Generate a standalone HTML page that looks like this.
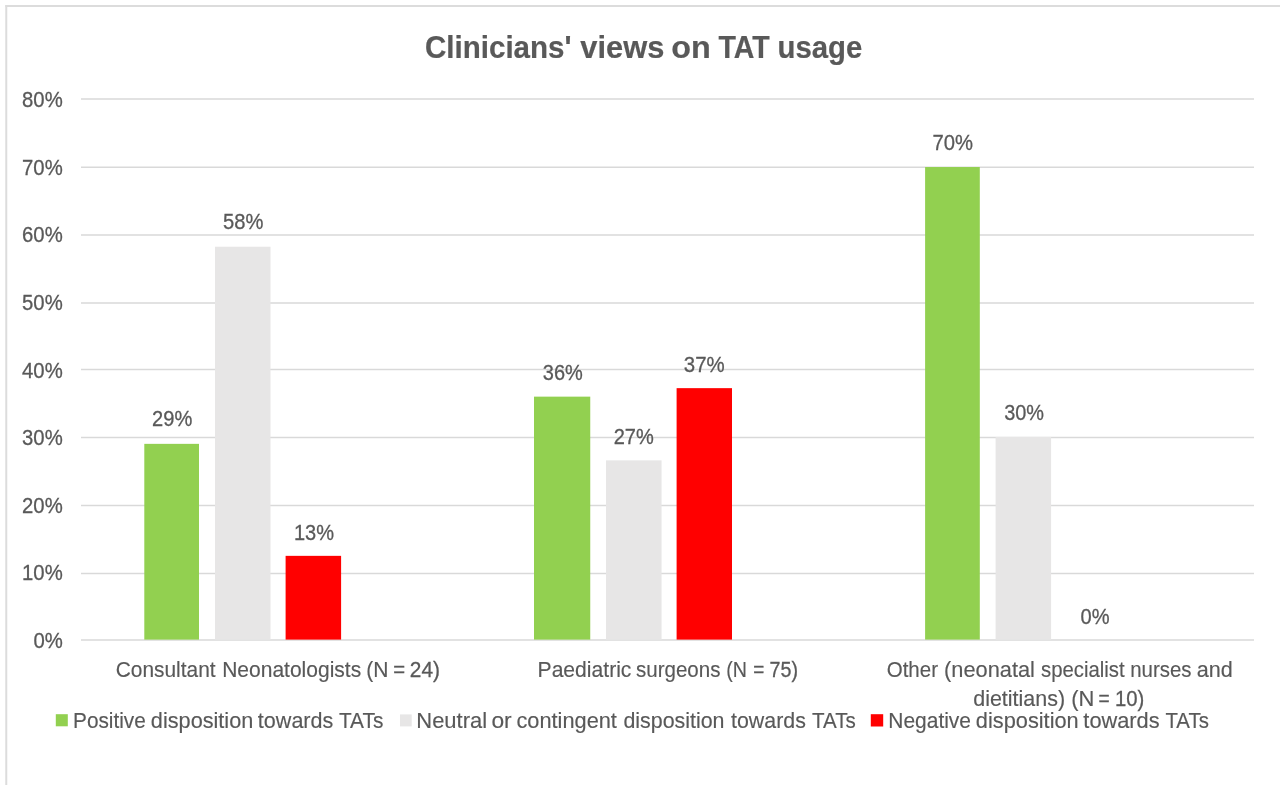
<!DOCTYPE html>
<html><head><meta charset="utf-8">
<style>
html,body{margin:0;padding:0;background:#fff;width:1280px;height:785px;overflow:hidden;}
svg{display:block;will-change:transform;}
text{font-family:"Liberation Sans", sans-serif;fill:#595959;stroke:#595959;stroke-width:0.3px;}
.w{stroke-width:0.15px;}
.t{stroke-width:0.2px;stroke:#545454;}
</style></head>
<body>
<svg width="1280" height="785" viewBox="0 0 1280 785">
<rect x="0" y="0" width="1280" height="785" fill="#fff"/>
<line x1="6.25" y1="785" x2="6.25" y2="5.1" stroke="#dcdcdc" stroke-width="2"/>
<line x1="5.25" y1="6.1" x2="1280" y2="6.1" stroke="#dcdcdc" stroke-width="2"/>
<g stroke="#d9d9d9" stroke-width="1.5">
<line x1="81" x2="1254" y1="639.90" y2="639.90"/>
<line x1="81" x2="1254" y1="573.55" y2="573.55"/>
<line x1="81" x2="1254" y1="505.55" y2="505.55"/>
<line x1="81" x2="1254" y1="437.50" y2="437.50"/>
<line x1="81" x2="1254" y1="369.50" y2="369.50"/>
<line x1="81" x2="1254" y1="302.97" y2="302.97"/>
<line x1="81" x2="1254" y1="234.97" y2="234.97"/>
<line x1="81" x2="1254" y1="167.15" y2="167.15"/>
<line x1="81" x2="1254" y1="99.03" y2="99.03"/>
</g>
<rect x="144.3" y="443.85" width="54.70" height="195.75" fill="#92d050"/>
<rect x="215.0" y="246.73" width="55.50" height="392.87" fill="#e7e6e6"/>
<rect x="285.6" y="555.85" width="55.50" height="83.75" fill="#ff0000"/>
<rect x="534.0" y="396.64" width="56.25" height="242.96" fill="#92d050"/>
<rect x="606.0" y="460.36" width="55.56" height="179.24" fill="#e7e6e6"/>
<rect x="676.6" y="388.15" width="55.40" height="251.45" fill="#ff0000"/>
<rect x="925.1" y="167.03" width="54.70" height="472.57" fill="#92d050"/>
<rect x="995.6" y="436.93" width="55.50" height="202.67" fill="#e7e6e6"/>
<rect x="55.8" y="714.2" width="12" height="12.1" fill="#92d050"/>
<rect x="400" y="714.4" width="11.7" height="12" fill="#e7e6e6"/>
<rect x="870.8" y="714.2" width="12.4" height="12.3" fill="#ff0000"/>
<text x="33.38" y="648.00" font-size="22" textLength="29.35" lengthAdjust="spacingAndGlyphs">0%</text>
<text x="22.08" y="580.38" font-size="22" textLength="40.65" lengthAdjust="spacingAndGlyphs">10%</text>
<text x="22.08" y="512.75" font-size="22" textLength="40.65" lengthAdjust="spacingAndGlyphs">20%</text>
<text x="22.08" y="445.12" font-size="22" textLength="40.65" lengthAdjust="spacingAndGlyphs">30%</text>
<text x="22.08" y="377.50" font-size="22" textLength="40.65" lengthAdjust="spacingAndGlyphs">40%</text>
<text x="22.08" y="309.88" font-size="22" textLength="40.65" lengthAdjust="spacingAndGlyphs">50%</text>
<text x="22.08" y="242.25" font-size="22" textLength="40.65" lengthAdjust="spacingAndGlyphs">60%</text>
<text x="22.08" y="174.62" font-size="22" textLength="40.65" lengthAdjust="spacingAndGlyphs">70%</text>
<text x="22.08" y="107.00" font-size="22" textLength="40.65" lengthAdjust="spacingAndGlyphs">80%</text>
<text x="152.09" y="426.10" font-size="22" textLength="40.23" lengthAdjust="spacingAndGlyphs">29%</text>
<text x="222.98" y="229.20" font-size="22" textLength="40.34" lengthAdjust="spacingAndGlyphs">58%</text>
<text x="293.91" y="539.90" font-size="22" textLength="40.11" lengthAdjust="spacingAndGlyphs">13%</text>
<text x="542.79" y="380.15" font-size="22" textLength="40.02" lengthAdjust="spacingAndGlyphs">36%</text>
<text x="613.69" y="444.00" font-size="22" textLength="40.07" lengthAdjust="spacingAndGlyphs">27%</text>
<text x="683.87" y="372.00" font-size="22" textLength="40.86" lengthAdjust="spacingAndGlyphs">37%</text>
<text x="932.55" y="149.90" font-size="22" textLength="40.52" lengthAdjust="spacingAndGlyphs">70%</text>
<text x="1004.20" y="420.15" font-size="22" textLength="39.81" lengthAdjust="spacingAndGlyphs">30%</text>
<text x="1080.52" y="624.20" font-size="22" textLength="29.01" lengthAdjust="spacingAndGlyphs">0%</text>
<text class="w" x="115.77" y="676.80" font-size="21.3" textLength="99.80" lengthAdjust="spacingAndGlyphs">Consultant</text>
<text class="w" x="222.17" y="676.80" font-size="21.3" textLength="139.00" lengthAdjust="spacingAndGlyphs">Neonatologists</text>
<text class="w" x="366.36" y="676.80" font-size="21.3" textLength="22.24" lengthAdjust="spacingAndGlyphs">(N</text>
<text x="393.25" y="676.80" font-size="21.3" textLength="11.85" lengthAdjust="spacingAndGlyphs">=</text>
<text x="409.82" y="676.80" font-size="21.3" textLength="30.13" lengthAdjust="spacingAndGlyphs">24)</text>
<text class="w" x="537.57" y="676.60" font-size="21.3" textLength="93.83" lengthAdjust="spacingAndGlyphs">Paediatric</text>
<text class="w" x="635.98" y="676.60" font-size="21.3" textLength="84.46" lengthAdjust="spacingAndGlyphs">surgeons</text>
<text class="w" x="726.15" y="676.60" font-size="21.3" textLength="20.74" lengthAdjust="spacingAndGlyphs">(N</text>
<text x="753.21" y="676.60" font-size="21.3" textLength="11.02" lengthAdjust="spacingAndGlyphs">=</text>
<text x="769.58" y="676.60" font-size="21.3" textLength="28.41" lengthAdjust="spacingAndGlyphs">75)</text>
<text class="w" x="886.74" y="676.70" font-size="21.3" textLength="51.22" lengthAdjust="spacingAndGlyphs">Other</text>
<text class="w" x="944.12" y="676.70" font-size="21.3" textLength="90.77" lengthAdjust="spacingAndGlyphs">(neonatal</text>
<text class="w" x="1040.98" y="676.70" font-size="21.3" textLength="83.70" lengthAdjust="spacingAndGlyphs">specialist</text>
<text class="w" x="1130.26" y="676.70" font-size="21.3" textLength="61.32" lengthAdjust="spacingAndGlyphs">nurses</text>
<text class="w" x="1196.79" y="676.70" font-size="21.3" textLength="36.02" lengthAdjust="spacingAndGlyphs">and</text>
<text class="w" x="973.19" y="705.60" font-size="21.3" textLength="91.92" lengthAdjust="spacingAndGlyphs">dietitians)</text>
<text class="w" x="1071.31" y="705.60" font-size="21.3" textLength="23.16" lengthAdjust="spacingAndGlyphs">(N</text>
<text x="1098.40" y="705.60" font-size="21.3" textLength="11.13" lengthAdjust="spacingAndGlyphs">=</text>
<text x="1114.97" y="705.60" font-size="21.3" textLength="29.35" lengthAdjust="spacingAndGlyphs">10)</text>
<text class="w" x="73.04" y="727.70" font-size="21.3" textLength="72.76" lengthAdjust="spacingAndGlyphs">Positive</text>
<text class="w" x="150.88" y="727.70" font-size="21.3" textLength="102.43" lengthAdjust="spacingAndGlyphs">disposition</text>
<text class="w" x="257.85" y="727.70" font-size="21.3" textLength="75.48" lengthAdjust="spacingAndGlyphs">towards</text>
<text class="w" x="338.91" y="727.70" font-size="21.3" textLength="44.42" lengthAdjust="spacingAndGlyphs">TATs</text>
<text class="w" x="416.30" y="727.70" font-size="21.3" textLength="70.75" lengthAdjust="spacingAndGlyphs">Neutral</text>
<text class="w" x="491.43" y="727.70" font-size="21.3" textLength="20.29" lengthAdjust="spacingAndGlyphs">or</text>
<text class="w" x="516.48" y="727.70" font-size="21.3" textLength="100.45" lengthAdjust="spacingAndGlyphs">contingent</text>
<text class="w" x="623.40" y="727.70" font-size="21.3" textLength="101.09" lengthAdjust="spacingAndGlyphs">disposition</text>
<text class="w" x="731.00" y="727.70" font-size="21.3" textLength="74.82" lengthAdjust="spacingAndGlyphs">towards</text>
<text class="w" x="812.02" y="727.70" font-size="21.3" textLength="43.81" lengthAdjust="spacingAndGlyphs">TATs</text>
<text class="w" x="888.28" y="727.70" font-size="21.3" textLength="82.76" lengthAdjust="spacingAndGlyphs">Negative</text>
<text class="w" x="975.88" y="727.70" font-size="21.3" textLength="102.83" lengthAdjust="spacingAndGlyphs">disposition</text>
<text class="w" x="1083.34" y="727.70" font-size="21.3" textLength="76.30" lengthAdjust="spacingAndGlyphs">towards</text>
<text class="w" x="1165.42" y="727.70" font-size="21.3" textLength="43.50" lengthAdjust="spacingAndGlyphs">TATs</text>
<text class="t" x="425.06" y="57.80" font-size="31" font-weight="bold" fill="#545454" textLength="146.42" lengthAdjust="spacingAndGlyphs">Clinicians'</text>
<text class="t" x="580.35" y="57.80" font-size="31" font-weight="bold" fill="#545454" textLength="83.94" lengthAdjust="spacingAndGlyphs">views</text>
<text class="t" x="671.20" y="57.80" font-size="31" font-weight="bold" fill="#545454" textLength="39.51" lengthAdjust="spacingAndGlyphs">on</text>
<text class="t" x="718.52" y="57.80" font-size="31" font-weight="bold" fill="#545454" textLength="51.26" lengthAdjust="spacingAndGlyphs">TAT</text>
<text class="t" x="777.51" y="57.80" font-size="31" font-weight="bold" fill="#545454" textLength="84.78" lengthAdjust="spacingAndGlyphs">usage</text>
</svg>
</body></html>
